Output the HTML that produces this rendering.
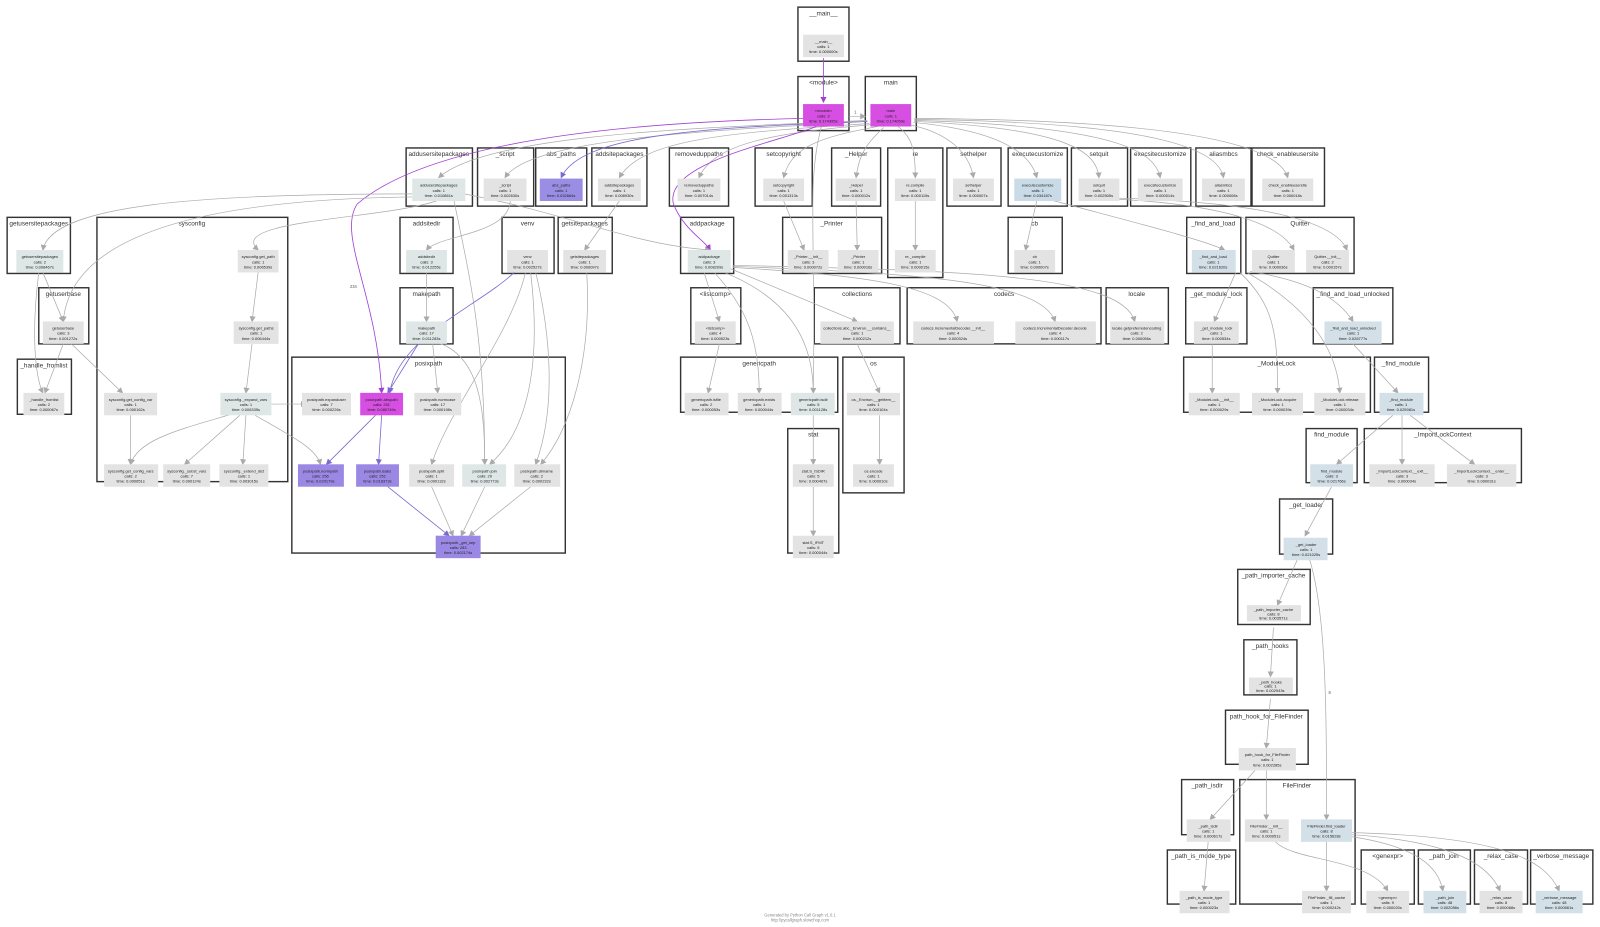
<!DOCTYPE html>
<html><head><meta charset="utf-8"><style>
html,body{margin:0;padding:0;background:#fff;}
svg{display:block;}
.c{fill:none;stroke:#333;stroke-width:1.4;}
.cl{font:6.3px "Liberation Sans",sans-serif;fill:#333;text-anchor:middle;}
.n text{font:3.9px "Liberation Sans",sans-serif;fill:#222;text-anchor:middle;}
.e{fill:none;stroke:#aaa;stroke-width:.7;marker-end:url(#a);}
.p{fill:none;stroke:#a040d0;stroke-width:.8;marker-end:url(#ap);}
.b{fill:none;stroke:#7a6ad0;stroke-width:.8;marker-end:url(#ab);}
.l{font:4px "Liberation Sans",sans-serif;fill:#555;}
.f{font:4px "Liberation Sans",sans-serif;fill:#888;text-anchor:middle;}
</style></head><body>
<svg width="1600" height="927" viewBox="0 0 1600 927" xmlns="http://www.w3.org/2000/svg">
<defs>
<marker id="a" markerWidth="6" markerHeight="6" refX="5" refY="3" orient="auto" markerUnits="userSpaceOnUse"><path d="M0,0L6,3L0,6z" fill="#aaa"/></marker>
<marker id="ap" markerWidth="6" markerHeight="6" refX="5" refY="3" orient="auto" markerUnits="userSpaceOnUse"><path d="M0,0L6,3L0,6z" fill="#a040d0"/></marker>
<marker id="ab" markerWidth="6" markerHeight="6" refX="5" refY="3" orient="auto" markerUnits="userSpaceOnUse"><path d="M0,0L6,3L0,6z" fill="#7a6ad0"/></marker>
</defs>
<rect width="1600" height="927" fill="#fff"/>
<g transform="scale(1.0204)">
<!-- clusters -->
<g class="c">
<rect x="782" y="7" width="50" height="53"/><rect x="782" y="75" width="50" height="53"/><rect x="848" y="75" width="50" height="53"/>
<rect x="398" y="145" width="65" height="57"/><rect x="468" y="145" width="55" height="57"/><rect x="525" y="145" width="50" height="57"/><rect x="580" y="145" width="54" height="57"/><rect x="656" y="145" width="58" height="57"/><rect x="740" y="145" width="56" height="57"/><rect x="815" y="145" width="48" height="57"/><rect x="870" y="145" width="54" height="127"/><rect x="928" y="145" width="53" height="57"/><rect x="988" y="145" width="58" height="57"/><rect x="1050" y="145" width="55" height="57"/><rect x="1108" y="145" width="59" height="57"/><rect x="1172" y="145" width="54" height="57"/><rect x="1227" y="145" width="71" height="57"/>
<rect x="7" y="213" width="62" height="55"/><rect x="95" y="213" width="187" height="259"/><rect x="392" y="213" width="52" height="55"/><rect x="492" y="213" width="51" height="55"/><rect x="547" y="213" width="53" height="55"/><rect x="667" y="213" width="52" height="55"/><rect x="767" y="213" width="97" height="55"/><rect x="988" y="213" width="53" height="55"/><rect x="1163" y="213" width="53" height="55"/><rect x="1221" y="213" width="106" height="55"/>
<rect x="38" y="282" width="49" height="55"/><rect x="392" y="282" width="52" height="55"/><rect x="677" y="282" width="49" height="55"/><rect x="798" y="282" width="84" height="55"/><rect x="889" y="282" width="190" height="55"/><rect x="1084" y="282" width="61" height="55"/><rect x="1162" y="282" width="60" height="55"/><rect x="1287" y="282" width="78" height="55"/>
<rect x="17" y="352" width="53" height="54"/><rect x="286" y="350" width="268" height="192"/><rect x="667" y="350" width="154" height="54"/><rect x="826" y="350" width="60" height="133"/><rect x="772" y="420" width="50" height="122"/><rect x="1160" y="350" width="183" height="54"/><rect x="1347" y="350" width="53" height="54"/><rect x="1280" y="420" width="50" height="53"/><rect x="1337" y="420" width="154" height="53"/>
<rect x="1254" y="489" width="52" height="54"/><rect x="1213" y="558" width="71" height="54"/><rect x="1219" y="627" width="52" height="54"/><rect x="1201" y="696" width="81" height="53"/><rect x="1158" y="764" width="51" height="54"/><rect x="1215" y="764" width="113" height="122"/><rect x="1144" y="833" width="67" height="53"/><rect x="1334" y="833" width="52" height="53"/><rect x="1390" y="833" width="51" height="53"/><rect x="1445" y="833" width="52" height="53"/><rect x="1500" y="833" width="61" height="53"/>
</g>
<g class="cl">
<text x="807" y="15">__main__</text><text x="807" y="83">&lt;module&gt;</text><text x="873" y="83">main</text>
<text x="430" y="153">addusersitepackages</text><text x="495" y="153">_script</text><text x="550" y="153">abs_paths</text><text x="607" y="153">addsitepackages</text><text x="685" y="153">removeduppaths</text><text x="768" y="153">setcopyright</text><text x="839" y="153">_Helper</text><text x="897" y="153">re</text><text x="954" y="153">sethelper</text><text x="1017" y="153">executecustomize</text><text x="1077" y="153">setquit</text><text x="1137" y="153">execsitecustomize</text><text x="1199" y="153">aliasmbcs</text><text x="1262" y="153">check_enableusersite</text>
<text x="38" y="221">getusersitepackages</text><text x="188" y="221">sysconfig</text><text x="418" y="221">addsitedir</text><text x="517" y="221">venv</text><text x="573" y="221">getsitepackages</text><text x="693" y="221">addpackage</text><text x="815" y="221">_Printer</text><text x="1014" y="221">cb</text><text x="1189" y="221">_find_and_load</text><text x="1274" y="221">Quitter</text>
<text x="62" y="290">getuserbase</text><text x="418" y="290">makepath</text><text x="701" y="290">&lt;listcomp&gt;</text><text x="840" y="290">collections</text><text x="984" y="290">codecs</text><text x="1114" y="290">locale</text><text x="1192" y="290">_get_module_lock</text><text x="1326" y="290">_find_and_load_unlocked</text>
<text x="43" y="360">_handle_fromlist</text><text x="420" y="358">posixpath</text><text x="744" y="358">genericpath</text><text x="856" y="358">os</text><text x="797" y="428">stat</text><text x="1251" y="358">_ModuleLock</text><text x="1373" y="358">_find_module</text><text x="1305" y="428">find_module</text><text x="1414" y="428">_ImportLockContext</text>
<text x="1280" y="497">_get_loader</text><text x="1248" y="566">_path_importer_cache</text><text x="1245" y="635">_path_hooks</text><text x="1241" y="704">path_hook_for_FileFinder</text><text x="1183" y="772">_path_isdir</text><text x="1271" y="772">FileFinder</text><text x="1177" y="841">_path_is_mode_type</text><text x="1360" y="841">&lt;genexpr&gt;</text><text x="1415" y="841">_path_join</text><text x="1471" y="841">_relax_case</text><text x="1530" y="841">_verbose_message</text>
</g>
<!-- edges -->
<g>
<path class="p" d="M807,57 L807,100"/>
<path class="e" d="M832,114 L848,114"/><text class="l" x="837" y="111">1</text>
<path class="e" d="M850,118 C700,125 480,130 430,174"/>
<path class="e" d="M850,119 C700,128 520,135 495,174"/>
<path class="b" d="M850,119 C700,125 570,130 550,174"/>
<path class="e" d="M852,121 C720,130 630,135 607,174"/>
<path class="e" d="M856,122 C760,130 700,140 685,174"/>
<path class="e" d="M860,124 C800,135 775,145 768,174"/>
<path class="e" d="M866,125 C850,140 842,150 839,174"/>
<path class="e" d="M880,124 C895,135 897,150 897,174"/>
<path class="e" d="M890,122 C930,130 950,150 954,174"/>
<path class="e" d="M895,120 C980,128 1010,150 1016,174"/>
<path class="e" d="M896,119 C1050,126 1075,150 1077,174"/>
<path class="e" d="M896,118 C1100,124 1132,150 1137,174"/>
<path class="e" d="M896,117 C1150,120 1195,150 1199,174"/>
<path class="e" d="M896,116 C1200,118 1255,150 1262,174"/>
<path class="p" d="M800,124 C760,140 650,160 660,200 C670,225 690,235 696,245"/>
<path class="e" d="M805,124 C790,180 800,230 797,385"/>
<path class="p" d="M790,116 C600,120 420,140 350,200 C330,230 370,290 374,385"/><text class="l" x="343" y="282">234</text>
<path class="e" d="M404,190 C200,190 50,200 42,245"/>
<path class="e" d="M404,193 C250,195 70,215 62,315"/>
<path class="e" d="M445,197 C460,270 475,330 475,455"/>
<path class="e" d="M455,190 C560,210 620,240 696,245"/>
<path class="e" d="M607,197 L573,245"/>
<path class="e" d="M500,196 C500,230 430,230 418,245"/>
<path class="e" d="M430,196 C380,215 220,215 253,245"/>
<path class="e" d="M253,267 L247,315"/><path class="e" d="M247,337 L241,385"/>
<path class="e" d="M230,405 C180,420 135,430 128,455"/><path class="e" d="M235,407 L181,455"/><path class="e" d="M241,407 L238,455"/><path class="e" d="M266,396 L300,396"/><path class="e" d="M250,407 C290,430 310,440 314,455"/>
<path class="e" d="M42,267 L62,315"/><path class="e" d="M38,267 C30,330 35,370 42,385"/>
<path class="e" d="M62,337 L44,385"/><path class="e" d="M70,337 L120,385"/><path class="e" d="M128,407 L128,455"/>
<path class="e" d="M418,267 L418,315"/>
<path class="b" d="M410,337 L380,385"/><path class="e" d="M424,337 L429,385"/><path class="e" d="M430,336 C470,350 475,400 475,455"/>
<path class="b" d="M368,407 L320,455"/><path class="b" d="M374,407 L371,455"/>
<path class="b" d="M380,477 L440,525"/><path class="e" d="M423,477 L444,525"/><path class="e" d="M475,477 L452,525"/><path class="e" d="M520,477 L460,525"/>
<path class="e" d="M515,267 C500,330 440,400 423,455"/><path class="e" d="M520,267 C530,350 520,420 480,455"/><path class="e" d="M525,267 C540,330 545,400 525,455"/><path class="b" d="M505,266 C470,300 390,330 382,385"/>
<path class="e" d="M575,267 C580,350 560,420 530,455"/>
<path class="e" d="M690,267 L705,315"/><path class="e" d="M705,337 L694,385"/><path class="e" d="M700,267 C730,300 744,330 744,385"/><path class="e" d="M705,265 C770,290 797,330 797,385"/><path class="e" d="M715,263 L840,315"/><path class="e" d="M718,262 C850,270 930,280 938,315"/><path class="e" d="M718,261 C900,268 1020,275 1034,315"/><path class="e" d="M718,260 C950,265 1100,270 1112,315"/>
<path class="e" d="M797,407 L797,455"/><path class="e" d="M797,477 L797,525"/>
<path class="e" d="M840,337 L862,385"/><path class="e" d="M862,407 L862,455"/>
<path class="e" d="M768,197 L788,245"/><path class="e" d="M839,197 C839,210 840,230 840,245"/><path class="e" d="M897,197 L897,245"/>
<path class="e" d="M1016,197 L1005,245"/><path class="e" d="M1030,196 C1100,215 1180,235 1200,245"/>
<path class="e" d="M1090,195 C1200,200 1255,220 1268,245"/><path class="e" d="M1090,194 C1250,198 1310,220 1320,245"/>
<path class="e" d="M1211,267 L1190,315"/><path class="e" d="M1215,267 C1250,300 1252,330 1252,385"/><path class="e" d="M1222,267 C1280,300 1310,340 1313,385"/><path class="e" d="M1225,266 C1280,275 1310,290 1326,315"/>
<path class="e" d="M1188,337 L1188,385"/><path class="e" d="M1326,337 L1370,385"/>
<path class="e" d="M1365,407 L1310,455"/><path class="e" d="M1374,407 L1374,455"/><path class="e" d="M1382,407 L1445,455"/>
<path class="e" d="M1305,477 L1279,525"/><path class="e" d="M1272,547 L1252,593"/><path class="e" d="M1283,547 C1300,600 1300,700 1300,803"/><text class="l" x="1302" y="680">8</text>
<path class="e" d="M1248,615 L1245,663"/><path class="e" d="M1245,685 L1241,733"/><path class="e" d="M1230,755 L1186,803"/><path class="e" d="M1241,755 L1241,803"/>
<path class="e" d="M1184,825 L1180,873"/><path class="e" d="M1300,825 L1300,873"/>
<path class="e" d="M1250,825 C1270,845 1340,840 1360,873"/><path class="e" d="M1325,820 C1390,830 1410,850 1414,873"/><path class="e" d="M1325,818 C1430,825 1460,850 1470,873"/><path class="e" d="M1325,816 C1480,820 1515,845 1528,873"/>
</g>
<!-- nodes -->
<g class="n">
<g><rect x="787" y="34" width="40" height="22" fill="#e3e3e3"/><text x="807" y="42">__main__</text><text x="807" y="47">calls: 1</text><text x="807" y="52">time: 0.000000s</text></g>
<g><rect x="787" y="102" width="40" height="22" fill="#d64fe2"/><text x="807" y="110">&lt;module&gt;</text><text x="807" y="115">calls: 3</text><text x="807" y="120">time: 0.174395s</text></g>
<g><rect x="853" y="102" width="40" height="22" fill="#d64fe2"/><text x="873" y="110">main</text><text x="873" y="115">calls: 1</text><text x="873" y="120">time: 0.174059s</text></g>
<g><rect x="404" y="175" width="52" height="22" fill="#dfe6e6"/><text x="430" y="183">addusersitepackages</text><text x="430" y="188">calls: 1</text><text x="430" y="193">time: 0.010861s</text></g>
<g><rect x="474" y="175" width="42" height="22" fill="#e3e3e3"/><text x="495" y="183">_script</text><text x="495" y="188">calls: 1</text><text x="495" y="193">time: 0.002630s</text></g>
<g><rect x="529" y="175" width="42" height="22" fill="#9a8ee4"/><text x="550" y="183">abs_paths</text><text x="550" y="188">calls: 1</text><text x="550" y="193">time: 0.032664s</text></g>
<g><rect x="586" y="175" width="42" height="22" fill="#e3e3e3"/><text x="607" y="183">addsitepackages</text><text x="607" y="188">calls: 1</text><text x="607" y="193">time: 0.008930s</text></g>
<g><rect x="664" y="175" width="42" height="22" fill="#e3e3e3"/><text x="685" y="183">removeduppaths</text><text x="685" y="188">calls: 1</text><text x="685" y="193">time: 0.007014s</text></g>
<g><rect x="748" y="175" width="40" height="22" fill="#e3e3e3"/><text x="768" y="183">setcopyright</text><text x="768" y="188">calls: 1</text><text x="768" y="193">time: 0.001313s</text></g>
<g><rect x="819" y="175" width="40" height="22" fill="#e3e3e3"/><text x="839" y="183">_Helper</text><text x="839" y="188">calls: 1</text><text x="839" y="193">time: 0.000012s</text></g>
<g><rect x="877" y="175" width="40" height="22" fill="#e3e3e3"/><text x="897" y="183">re.compile</text><text x="897" y="188">calls: 1</text><text x="897" y="193">time: 0.000115s</text></g>
<g><rect x="934" y="175" width="40" height="22" fill="#e3e3e3"/><text x="954" y="183">sethelper</text><text x="954" y="188">calls: 1</text><text x="954" y="193">time: 0.000007s</text></g>
<g><rect x="994" y="175" width="46" height="22" fill="#c9dbe6"/><text x="1017" y="183">executecustomize</text><text x="1017" y="188">calls: 1</text><text x="1017" y="193">time: 0.034187s</text></g>
<g><rect x="1057" y="175" width="40" height="22" fill="#e3e3e3"/><text x="1077" y="183">setquit</text><text x="1077" y="188">calls: 1</text><text x="1077" y="193">time: 0.002505s</text></g>
<g><rect x="1115" y="175" width="44" height="22" fill="#e3e3e3"/><text x="1137" y="183">execsitecustomize</text><text x="1137" y="188">calls: 1</text><text x="1137" y="193">time: 0.000014s</text></g>
<g><rect x="1178" y="175" width="42" height="22" fill="#e3e3e3"/><text x="1199" y="183">aliasmbcs</text><text x="1199" y="188">calls: 1</text><text x="1199" y="193">time: 0.000008s</text></g>
<g><rect x="1237" y="175" width="50" height="22" fill="#e3e3e3"/><text x="1262" y="183">check_enableusersite</text><text x="1262" y="188">calls: 1</text><text x="1262" y="193">time: 0.000018s</text></g>
<g><rect x="16" y="245" width="46" height="22" fill="#dfe6e6"/><text x="39" y="253">getusersitepackages</text><text x="39" y="258">calls: 2</text><text x="39" y="263">time: 0.008467s</text></g>
<g><rect x="233" y="245" width="40" height="22" fill="#e3e3e3"/><text x="253" y="253">sysconfig.get_path</text><text x="253" y="258">calls: 1</text><text x="253" y="263">time: 0.006539s</text></g>
<g><rect x="398" y="245" width="40" height="22" fill="#dfe6e6"/><text x="418" y="253">addsitedir</text><text x="418" y="258">calls: 3</text><text x="418" y="263">time: 0.012255s</text></g>
<g><rect x="497" y="245" width="40" height="22" fill="#e3e3e3"/><text x="517" y="253">venv</text><text x="517" y="258">calls: 1</text><text x="517" y="263">time: 0.002527s</text></g>
<g><rect x="552" y="245" width="42" height="22" fill="#e3e3e3"/><text x="573" y="253">getsitepackages</text><text x="573" y="258">calls: 1</text><text x="573" y="263">time: 0.000097s</text></g>
<g><rect x="674" y="245" width="42" height="22" fill="#dfe6e6"/><text x="695" y="253">addpackage</text><text x="695" y="258">calls: 3</text><text x="695" y="263">time: 0.008209s</text></g>
<g><rect x="772" y="245" width="40" height="22" fill="#e3e3e3"/><text x="792" y="253">_Printer.__init__</text><text x="792" y="258">calls: 3</text><text x="792" y="263">time: 0.000072s</text></g>
<g><rect x="821" y="245" width="40" height="22" fill="#e3e3e3"/><text x="841" y="253">_Printer</text><text x="841" y="258">calls: 1</text><text x="841" y="263">time: 0.000016s</text></g>
<g><rect x="877" y="245" width="40" height="22" fill="#e3e3e3"/><text x="897" y="253">re._compile</text><text x="897" y="258">calls: 1</text><text x="897" y="263">time: 0.000015s</text></g>
<g><rect x="994" y="245" width="40" height="22" fill="#e3e3e3"/><text x="1014" y="253">cb</text><text x="1014" y="258">calls: 1</text><text x="1014" y="263">time: 0.000007s</text></g>
<g><rect x="1168" y="245" width="43" height="22" fill="#d3e0e7"/><text x="1189" y="253">_find_and_load</text><text x="1189" y="258">calls: 1</text><text x="1189" y="263">time: 0.021620s</text></g>
<g><rect x="1227" y="245" width="42" height="22" fill="#e3e3e3"/><text x="1248" y="253">Quitter</text><text x="1248" y="258">calls: 1</text><text x="1248" y="263">time: 0.000036s</text></g>
<g><rect x="1280" y="245" width="42" height="22" fill="#e3e3e3"/><text x="1301" y="253">Quitter.__init__</text><text x="1301" y="258">calls: 2</text><text x="1301" y="263">time: 0.000157s</text></g>
<g><rect x="42" y="315" width="40" height="22" fill="#e3e3e3"/><text x="62" y="323">getuserbase</text><text x="62" y="328">calls: 3</text><text x="62" y="333">time: 0.001272s</text></g>
<g><rect x="229" y="315" width="44" height="22" fill="#e3e3e3"/><text x="251" y="323">sysconfig.get_paths</text><text x="251" y="328">calls: 1</text><text x="251" y="333">time: 0.006444s</text></g>
<g><rect x="398" y="315" width="40" height="22" fill="#dfe6e6"/><text x="418" y="323">makepath</text><text x="418" y="328">calls: 17</text><text x="418" y="333">time: 0.011283s</text></g>
<g><rect x="681" y="315" width="40" height="22" fill="#e3e3e3"/><text x="701" y="323">&lt;listcomp&gt;</text><text x="701" y="328">calls: 4</text><text x="701" y="333">time: 0.000523s</text></g>
<g><rect x="804" y="315" width="72" height="22" fill="#e3e3e3"/><text x="840" y="323">collections.abc._Environ.__contains__</text><text x="840" y="328">calls: 1</text><text x="840" y="333">time: 0.000212s</text></g>
<g><rect x="895" y="315" width="79" height="22" fill="#e3e3e3"/><text x="934" y="323">codecs.IncrementalDecoder.__init__</text><text x="934" y="328">calls: 4</text><text x="934" y="333">time: 0.000324s</text></g>
<g><rect x="995" y="315" width="79" height="22" fill="#e3e3e3"/><text x="1034" y="323">codecs.IncrementalDecoder.decode</text><text x="1034" y="328">calls: 4</text><text x="1034" y="333">time: 0.000117s</text></g>
<g><rect x="1088" y="315" width="53" height="22" fill="#e3e3e3"/><text x="1114" y="323">locale.getpreferredencoding</text><text x="1114" y="328">calls: 2</text><text x="1114" y="333">time: 0.000056s</text></g>
<g><rect x="1170" y="315" width="44" height="22" fill="#e3e3e3"/><text x="1192" y="323">_get_module_lock</text><text x="1192" y="328">calls: 1</text><text x="1192" y="333">time: 0.000534s</text></g>
<g><rect x="1298" y="315" width="56" height="22" fill="#d3e0e7"/><text x="1326" y="323">_find_and_load_unlocked</text><text x="1326" y="328">calls: 1</text><text x="1326" y="333">time: 0.026777s</text></g>
<g><rect x="23" y="385" width="40" height="22" fill="#e3e3e3"/><text x="43" y="393">_handle_fromlist</text><text x="43" y="398">calls: 2</text><text x="43" y="403">time: 0.000067s</text></g>
<g><rect x="102" y="385" width="52" height="22" fill="#e3e3e3"/><text x="128" y="393">sysconfig.get_config_var</text><text x="128" y="398">calls: 1</text><text x="128" y="403">time: 0.000162s</text></g>
<g><rect x="216" y="385" width="50" height="22" fill="#dfe6e6"/><text x="241" y="393">sysconfig._expand_vars</text><text x="241" y="398">calls: 1</text><text x="241" y="403">time: 0.006335s</text></g>
<g><rect x="296" y="385" width="48" height="22" fill="#e3e3e3"/><text x="320" y="393">posixpath.expanduser</text><text x="320" y="398">calls: 7</text><text x="320" y="403">time: 0.000226s</text></g>
<g><rect x="353" y="385" width="42" height="22" fill="#d64fe2"/><text x="374" y="393">posixpath.abspath</text><text x="374" y="398">calls: 251</text><text x="374" y="403">time: 0.080749s</text></g>
<g><rect x="406" y="385" width="46" height="22" fill="#e3e3e3"/><text x="429" y="393">posixpath.normcase</text><text x="429" y="398">calls: 17</text><text x="429" y="403">time: 0.000198s</text></g>
<g><rect x="671" y="385" width="43" height="22" fill="#e3e3e3"/><text x="692" y="393">genericpath.isfile</text><text x="692" y="398">calls: 2</text><text x="692" y="403">time: 0.000053s</text></g>
<g><rect x="723" y="385" width="43" height="22" fill="#e3e3e3"/><text x="744" y="393">genericpath.exists</text><text x="744" y="398">calls: 1</text><text x="744" y="403">time: 0.000044s</text></g>
<g><rect x="775" y="385" width="43" height="22" fill="#dfe6e6"/><text x="797" y="393">genericpath.isdir</text><text x="797" y="398">calls: 5</text><text x="797" y="403">time: 0.001128s</text></g>
<g><rect x="830" y="385" width="52" height="22" fill="#e3e3e3"/><text x="856" y="393">os._Environ.__getitem__</text><text x="856" y="398">calls: 1</text><text x="856" y="403">time: 0.000104s</text></g>
<g><rect x="1165" y="385" width="50" height="22" fill="#e3e3e3"/><text x="1190" y="393">_ModuleLock.__init__</text><text x="1190" y="398">calls: 1</text><text x="1190" y="403">time: 0.000029s</text></g>
<g><rect x="1227" y="385" width="50" height="22" fill="#e3e3e3"/><text x="1252" y="393">_ModuleLock.acquire</text><text x="1252" y="398">calls: 1</text><text x="1252" y="403">time: 0.000039s</text></g>
<g><rect x="1288" y="385" width="50" height="22" fill="#e3e3e3"/><text x="1313" y="393">_ModuleLock.release</text><text x="1313" y="398">calls: 1</text><text x="1313" y="403">time: 0.000034s</text></g>
<g><rect x="1352" y="385" width="43" height="22" fill="#d3e0e7"/><text x="1373" y="393">_find_module</text><text x="1373" y="398">calls: 1</text><text x="1373" y="403">time: 0.025981s</text></g>
<g><rect x="102" y="455" width="53" height="22" fill="#e3e3e3"/><text x="128" y="463">sysconfig.get_config_vars</text><text x="128" y="468">calls: 2</text><text x="128" y="473">time: 0.000651s</text></g>
<g><rect x="160" y="455" width="46" height="22" fill="#e3e3e3"/><text x="183" y="463">sysconfig._subst_vars</text><text x="183" y="468">calls: 7</text><text x="183" y="473">time: 0.000124s</text></g>
<g><rect x="215" y="455" width="48" height="22" fill="#e3e3e3"/><text x="239" y="463">sysconfig._extend_dict</text><text x="239" y="468">calls: 1</text><text x="239" y="473">time: 0.003015s</text></g>
<g><rect x="292" y="455" width="45" height="22" fill="#9a88e4"/><text x="314" y="463">posixpath.normpath</text><text x="314" y="468">calls: 256</text><text x="314" y="473">time: 0.029179s</text></g>
<g><rect x="349" y="455" width="42" height="22" fill="#9a88e4"/><text x="370" y="463">posixpath.isabs</text><text x="370" y="468">calls: 251</text><text x="370" y="473">time: 0.018373s</text></g>
<g><rect x="401" y="455" width="44" height="22" fill="#e3e3e3"/><text x="423" y="463">posixpath.split</text><text x="423" y="468">calls: 1</text><text x="423" y="473">time: 0.000132s</text></g>
<g><rect x="453" y="455" width="43" height="22" fill="#dfe6e6"/><text x="475" y="463">posixpath.join</text><text x="475" y="468">calls: 29</text><text x="475" y="473">time: 0.002773s</text></g>
<g><rect x="504" y="455" width="45" height="22" fill="#e3e3e3"/><text x="526" y="463">posixpath.dirname</text><text x="526" y="468">calls: 2</text><text x="526" y="473">time: 0.000232s</text></g>
<g><rect x="777" y="455" width="40" height="22" fill="#e3e3e3"/><text x="797" y="463">stat.S_ISDIR</text><text x="797" y="468">calls: 5</text><text x="797" y="473">time: 0.000407s</text></g>
<g><rect x="836" y="455" width="40" height="22" fill="#e3e3e3"/><text x="856" y="463">os.encode</text><text x="856" y="468">calls: 1</text><text x="856" y="473">time: 0.000010s</text></g>
<g><rect x="1284" y="455" width="42" height="22" fill="#d3e0e7"/><text x="1305" y="463">find_module</text><text x="1305" y="468">calls: 3</text><text x="1305" y="473">time: 0.021766s</text></g>
<g><rect x="1342" y="455" width="64" height="22" fill="#e3e3e3"/><text x="1374" y="463">_ImportLockContext.__exit__</text><text x="1374" y="468">calls: 3</text><text x="1374" y="473">time: 0.000034s</text></g>
<g><rect x="1418" y="455" width="68" height="22" fill="#e3e3e3"/><text x="1452" y="463">_ImportLockContext.__enter__</text><text x="1452" y="468">calls: 3</text><text x="1452" y="473">time: 0.000031s</text></g>
<g><rect x="427" y="525" width="44" height="22" fill="#9a88e4"/><text x="449" y="533">posixpath._get_sep</text><text x="449" y="538">calls: 283</text><text x="449" y="543">time: 0.002174s</text></g>
<g><rect x="777" y="525" width="40" height="22" fill="#e3e3e3"/><text x="797" y="533">stat.S_IFMT</text><text x="797" y="538">calls: 5</text><text x="797" y="543">time: 0.000044s</text></g>
<g><rect x="1258" y="527" width="43" height="22" fill="#d3e0e7"/><text x="1280" y="535">_get_loader</text><text x="1280" y="540">calls: 1</text><text x="1280" y="545">time: 0.021025s</text></g>
<g><rect x="1222" y="593" width="53" height="16" fill="#e3e3e3"/><text x="1248" y="599">_path_importer_cache</text><text x="1248" y="603">calls: 8</text><text x="1248" y="607">time: 0.003571s</text></g>
<g><rect x="1224" y="664" width="43" height="16" fill="#e3e3e3"/><text x="1245" y="670">_path_hooks</text><text x="1245" y="674">calls: 1</text><text x="1245" y="678">time: 0.002943s</text></g>
<g><rect x="1214" y="733" width="56" height="22" fill="#e3e3e3"/><text x="1242" y="741">path_hook_for_FileFinder</text><text x="1242" y="746">calls: 1</text><text x="1242" y="751">time: 0.002285s</text></g>
<g><rect x="1163" y="803" width="43" height="22" fill="#e3e3e3"/><text x="1184" y="811">_path_isdir</text><text x="1184" y="816">calls: 1</text><text x="1184" y="821">time: 0.000617s</text></g>
<g><rect x="1220" y="803" width="43" height="22" fill="#e3e3e3"/><text x="1241" y="811">FileFinder.__init__</text><text x="1241" y="816">calls: 1</text><text x="1241" y="821">time: 0.000051s</text></g>
<g><rect x="1275" y="803" width="50" height="22" fill="#d3e0e7"/><text x="1300" y="811">FileFinder.find_loader</text><text x="1300" y="816">calls: 8</text><text x="1300" y="821">time: 0.015628s</text></g>
<g><rect x="1156" y="873" width="49" height="22" fill="#e3e3e3"/><text x="1180" y="881">_path_is_mode_type</text><text x="1180" y="886">calls: 1</text><text x="1180" y="891">time: 0.000023s</text></g>
<g><rect x="1276" y="873" width="48" height="22" fill="#e3e3e3"/><text x="1300" y="881">FileFinder._fill_cache</text><text x="1300" y="886">calls: 1</text><text x="1300" y="891">time: 0.000242s</text></g>
<g><rect x="1339" y="873" width="42" height="22" fill="#e3e3e3"/><text x="1360" y="881">&lt;genexpr&gt;</text><text x="1360" y="886">calls: 9</text><text x="1360" y="891">time: 0.000020s</text></g>
<g><rect x="1395" y="873" width="42" height="22" fill="#d3e0e7"/><text x="1416" y="881">_path_join</text><text x="1416" y="886">calls: 48</text><text x="1416" y="891">time: 0.002056s</text></g>
<g><rect x="1450" y="873" width="42" height="22" fill="#e3e3e3"/><text x="1471" y="881">_relax_case</text><text x="1471" y="886">calls: 8</text><text x="1471" y="891">time: 0.000068s</text></g>
<g><rect x="1505" y="873" width="46" height="22" fill="#d3e0e7"/><text x="1528" y="881">_verbose_message</text><text x="1528" y="886">calls: 48</text><text x="1528" y="891">time: 0.000561s</text></g>
</g>
<text class="f" x="784" y="898">Generated by Python Call Graph v1.0.1</text>
<text class="f" x="784" y="903">http://pycallgraph.slowchop.com</text>
</g>
</svg>
</body></html>
